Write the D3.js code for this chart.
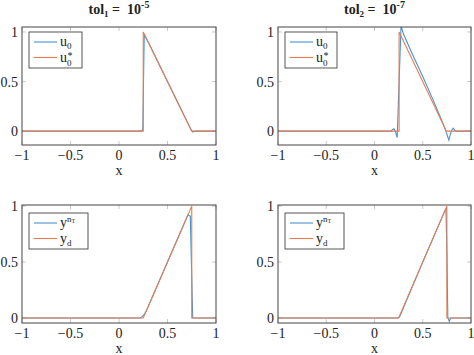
<!DOCTYPE html>
<html><head><meta charset="utf-8">
<script src="https://cdn.jsdelivr.net/npm/d3@7"></script>
<style>body{margin:0;background:#fff}svg{display:block}text{font-family:"Liberation Serif","Times New Roman","DejaVu Serif",serif}</style>
</head><body>
<script>
// ---- data ----
const xTicks = [-1, -0.5, 0, 0.5, 1];
const yTicks = [0, 0.5, 1];
const xTickLabels = ["\u22121", "\u22120.5", "0", "0.5", "1"];
const yTickLabels = ["0", "0.5", "1"];

// top-left (tol1 = 1e-5)
const tl_u0_x   = [-1, 0.22, 0.245, 0.26, 0.3, 0.5, 0.7, 0.74, 0.76, 0.78, 1];
const tl_u0_y   = [0, 0, 0.01, 0.97, 0.9, 0.5, 0.1, 0.02, -0.01, 0, 0];
const tl_us_x   = [-1, 0.25, 0.25, 0.75, 1];
const tl_us_y   = [0, 0, 1, 0, 0];

// top-right (tol2 = 1e-7)
const tr_u0_x   = [-1, 0.17, 0.2, 0.215, 0.235, 0.255, 0.275, 0.3, 0.4, 0.5, 0.6, 0.7, 0.74, 0.77, 0.795, 0.815, 0.84, 0.87, 1];
const tr_u0_y   = [0, 0, 0.025, 0, -0.065, 0.5, 1.06, 0.98, 0.76, 0.55, 0.33, 0.1, 0.0, -0.09, 0.0, 0.03, 0.0, 0, 0];
const tr_us_x   = [-1, 0.255, 0.255, 0.745, 1];
const tr_us_y   = [0, 0, 1, 0, 0];

// bottom-left
const bl_y_x    = [-1, 0.22, 0.25, 0.28, 0.5, 0.71, 0.735, 0.76, 1];
const bl_y_y    = [0, 0, 0.02, 0.06, 0.5, 0.92, 0.91, 0, 0];
const bl_d_x    = [-1, 0.25, 0.75, 0.75, 1];
const bl_d_y    = [0, 0, 1, 0, 0];

// bottom-right
const br_y_x    = [-1, 0.24, 0.26, 0.5, 0.74, 0.75, 0.76, 0.775, 0.79, 1];
const br_y_y    = [0, 0, 0.01, 0.5, 0.98, 0.6, 0.0, -0.03, 0, 0];
const br_d_x    = [-1, 0.25, 0.75, 0.75, 1];
const br_d_y    = [0, 0, 1, 0, 0];

const blue = "#4a92cc", orange = "#e47e52";

const W = 474, H = 355;
const svg = d3.select("body").append("svg").attr("width", W).attr("height", H);

function zip(xs, ys){ return xs.map((x,i)=>[x, ys[i]]); }

function txt(g, x, y, s, size){
  return g.append("text").attr("x", x).attr("y", y).attr("font-size", size).attr("fill", "#222").text(s);
}

function panel(opt){
  const x = d3.scaleLinear().domain([-1,1]).range([opt.x0, opt.x1]);
  const y = d3.scaleLinear().domain(opt.ydom).range([opt.y1, opt.y0]);
  const g = svg.append("g");
  const clipId = "clip" + opt.id;
  g.append("clipPath").attr("id", clipId).append("rect")
    .attr("x", opt.x0).attr("y", opt.y0).attr("width", opt.x1-opt.x0).attr("height", opt.y1-opt.y0);
  // inner ticks (gray)
  const tk = g.append("g").attr("stroke", "#bdbdbd").attr("stroke-width", 0.8);
  xTicks.forEach(t => {
    tk.append("line").attr("x1", x(t)).attr("x2", x(t)).attr("y1", opt.y1).attr("y2", opt.y1-4);
    tk.append("line").attr("x1", x(t)).attr("x2", x(t)).attr("y1", opt.y0).attr("y2", opt.y0+4);
  });
  yTicks.forEach(t => {
    tk.append("line").attr("y1", y(t)).attr("y2", y(t)).attr("x1", opt.x0).attr("x2", opt.x0+4);
    tk.append("line").attr("y1", y(t)).attr("y2", y(t)).attr("x1", opt.x1).attr("x2", opt.x1-4);
  });
  // lines
  const line = d3.line().x(d=>x(d[0])).y(d=>y(d[1]));
  const lg = g.append("g").attr("clip-path", `url(#${clipId})`).attr("fill","none").attr("stroke-width", 1.1);
  lg.append("path").attr("d", line(zip(opt.ax, opt.ay))).attr("stroke", blue);
  lg.append("path").attr("d", line(zip(opt.bx, opt.by))).attr("stroke", orange);
  // frame
  g.append("rect").attr("x", opt.x0).attr("y", opt.y0).attr("width", opt.x1-opt.x0).attr("height", opt.y1-opt.y0)
    .attr("fill","none").attr("stroke","#444").attr("stroke-width",1);
  // tick labels
  xTicks.forEach((t,i) => {
    txt(g, x(t), opt.y1 + 15, xTickLabels[i], 14).attr("text-anchor","middle");
  });
  yTicks.forEach((t,i) => {
    txt(g, opt.x0 - 4, y(t) + 5, yTickLabels[i], 14).attr("text-anchor","end");
  });
  // axis label
  txt(g, (opt.x0+opt.x1)/2, opt.y1 + 29.5, "x", 14).attr("text-anchor","middle");
  // legend
  const L = opt.legend;
  g.append("rect").attr("x", L.x).attr("y", L.y).attr("width", L.w).attr("height", 36)
    .attr("fill","#fff").attr("stroke","#444").attr("stroke-width",0.9);
  [blue, orange].forEach((c,i) => {
    const ry = L.y + 10 + i*15.5;
    g.append("line").attr("x1", L.x+5).attr("x2", L.x+28).attr("y1", ry).attr("y2", ry)
      .attr("stroke", c).attr("stroke-width", 1.1);
    L.labels[i](g, L.x+31, ry+4);
  });
  // title
  if (opt.title) {
    const t = svg.append("text").attr("x", (opt.x0+opt.x1)/2).attr("y", 14).attr("text-anchor","middle")
      .attr("font-size", 14).attr("font-weight","bold").attr("fill","#222").style("white-space","pre");
    t.append("tspan").text("tol");
    t.append("tspan").attr("font-size", 9).attr("dy", 3).text(opt.title[0]);
    t.append("tspan").attr("dy", -3).text(" =  10");
    t.append("tspan").attr("font-size", 10).attr("dy", -6).text(opt.title[1]);
  }
}

// legend labels: base letter + separate script texts
const lblU0 = (g, x, y) => { txt(g, x, y, "u", 14); txt(g, x+7, y+3, "0", 9); };
const lblU0s = (g, x, y) => { txt(g, x, y, "u", 14); txt(g, x+7.5, y-3, "*", 10); txt(g, x+7, y+4, "0", 9); };
const lblY = (g, x, y) => { txt(g, x, y, "y", 14); txt(g, x+7, y-5, "n", 9); txt(g, x+11.5, y-4, "T", 6); };
const lblYd = (g, x, y) => { txt(g, x, y, "y", 14); txt(g, x+7, y+3, "d", 9); };

panel({id:1, x0:22, x1:216, y0:27, y1:145, ydom:[-0.14,1.05], ax:tl_u0_x, ay:tl_u0_y, bx:tl_us_x, by:tl_us_y,
  legend:{x:29, y:32, w:53, labels:[lblU0, lblU0s]}, title:["1","-5"]});
panel({id:2, x0:278, x1:471, y0:27, y1:145, ydom:[-0.14,1.05], ax:tr_u0_x, ay:tr_u0_y, bx:tr_us_x, by:tr_us_y,
  legend:{x:285, y:32, w:52, labels:[lblU0, lblU0s]}, title:["2","-7"]});
panel({id:3, x0:22, x1:216, y0:205, y1:323, ydom:[-0.045,1.01], ax:bl_y_x, ay:bl_y_y, bx:bl_d_x, by:bl_d_y,
  legend:{x:29, y:213, w:59, labels:[lblY, lblYd]}});
panel({id:4, x0:278, x1:471, y0:205, y1:323, ydom:[-0.045,1.01], ax:br_y_x, ay:br_y_y, bx:br_d_x, by:br_d_y,
  legend:{x:285, y:213, w:59, labels:[lblY, lblYd]}});
</script>
</body></html>
